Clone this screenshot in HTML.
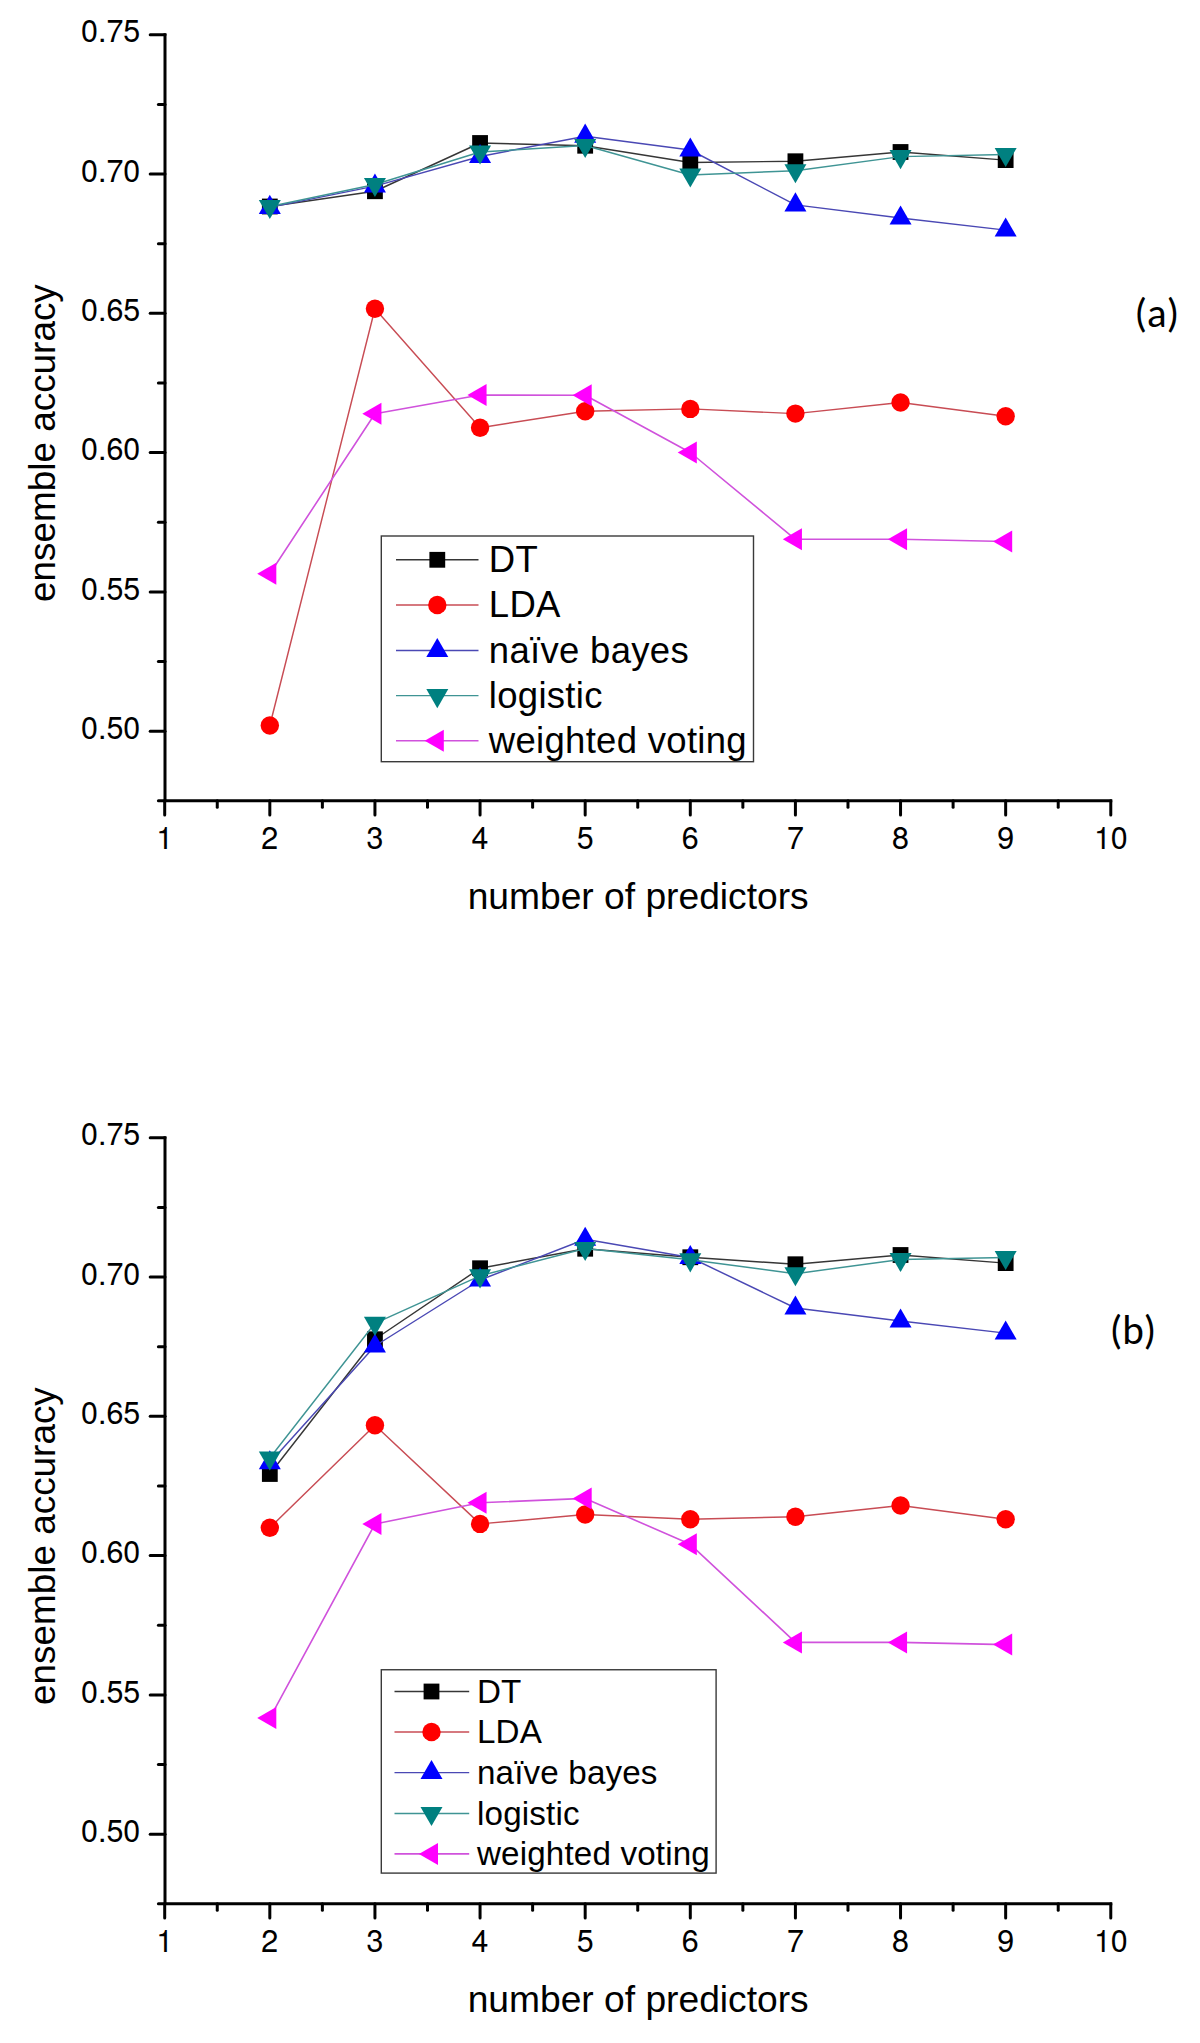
<!DOCTYPE html>
<html><head><meta charset="utf-8"><title>ensemble accuracy vs number of predictors</title>
<style>html,body{margin:0;padding:0;background:#fff;}body{width:1200px;height:2043px;overflow:hidden;}svg{display:block;}</style>
</head><body>
<svg width="1200" height="2043" viewBox="0 0 1200 2043">
<rect width="1200" height="2043" fill="#fff"/>
<g stroke="#000" stroke-width="3" fill="none" stroke-linecap="square">
<path d="M165 34.75V800.8H1110.8"/>
</g><g stroke="#000" stroke-width="3" fill="none" stroke-linecap="round">
<path d="M150.2 34.75H165"/>
<path d="M158.4 104.4H165"/>
<path d="M150.2 174.04H165"/>
<path d="M158.4 243.68H165"/>
<path d="M150.2 313.33H165"/>
<path d="M158.4 382.98H165"/>
<path d="M150.2 452.62H165"/>
<path d="M158.4 522.27H165"/>
<path d="M150.2 591.91H165"/>
<path d="M158.4 661.55H165"/>
<path d="M150.2 731.2H165"/>
<path d="M158.4 800.85H165"/>
<path d="M164.7 800.8V815"/>
<path d="M217.26 800.8V807.2"/>
<path d="M269.82 800.8V815"/>
<path d="M322.38 800.8V807.2"/>
<path d="M374.94 800.8V815"/>
<path d="M427.5 800.8V807.2"/>
<path d="M480.06 800.8V815"/>
<path d="M532.62 800.8V807.2"/>
<path d="M585.18 800.8V815"/>
<path d="M637.74 800.8V807.2"/>
<path d="M690.3 800.8V815"/>
<path d="M742.86 800.8V807.2"/>
<path d="M795.42 800.8V815"/>
<path d="M847.98 800.8V807.2"/>
<path d="M900.54 800.8V815"/>
<path d="M953.1 800.8V807.2"/>
<path d="M1005.66 800.8V815"/>
<path d="M1058.22 800.8V807.2"/>
<path d="M1110.78 800.8V815"/>
</g>
<g font-family="'TeX Gyre Heros', 'Liberation Sans', Arial, sans-serif" font-size="30.4" fill="#000">
<text transform="translate(140.2 42.35) scale(1 1.04)" text-anchor="end">0.75</text>
<text transform="translate(140.2 181.64) scale(1 1.04)" text-anchor="end">0.70</text>
<text transform="translate(140.2 320.93) scale(1 1.04)" text-anchor="end">0.65</text>
<text transform="translate(140.2 460.22) scale(1 1.04)" text-anchor="end">0.60</text>
<text transform="translate(140.2 599.51) scale(1 1.04)" text-anchor="end">0.55</text>
<text transform="translate(140.2 738.8) scale(1 1.04)" text-anchor="end">0.50</text>
<text transform="translate(164.7 849) scale(1 1.04)" text-anchor="middle">1</text>
<text transform="translate(269.82 849) scale(1 1.04)" text-anchor="middle">2</text>
<text transform="translate(374.94 849) scale(1 1.04)" text-anchor="middle">3</text>
<text transform="translate(480.06 849) scale(1 1.04)" text-anchor="middle">4</text>
<text transform="translate(585.18 849) scale(1 1.04)" text-anchor="middle">5</text>
<text transform="translate(690.3 849) scale(1 1.04)" text-anchor="middle">6</text>
<text transform="translate(795.42 849) scale(1 1.04)" text-anchor="middle">7</text>
<text transform="translate(900.54 849) scale(1 1.04)" text-anchor="middle">8</text>
<text transform="translate(1005.66 849) scale(1 1.04)" text-anchor="middle">9</text>
<text transform="translate(1110.78 849) scale(1 1.04)" text-anchor="middle">10</text>
</g>
<text transform="translate(54.5 443.1) rotate(-90)" text-anchor="middle" font-family="'Liberation Sans', Arial, sans-serif" font-size="36.9" fill="#000">ensemble accuracy</text>
<text x="638.15" y="908.7" text-anchor="middle" font-family="'Liberation Sans', Arial, sans-serif" font-size="37.2" fill="#000">number of predictors</text>
<polyline points="269.82,206.5 374.94,191.25 480.06,143 585.18,145.75 690.3,162.5 795.42,161.25 900.54,152 1005.66,160.1" fill="none" stroke="#363636" stroke-width="1.45" stroke-linejoin="round"/>
<rect x="261.92" y="198.6" width="15.8" height="15.8" fill="#000"/>
<rect x="367.04" y="183.35" width="15.8" height="15.8" fill="#000"/>
<rect x="472.16" y="135.1" width="15.8" height="15.8" fill="#000"/>
<rect x="577.28" y="137.85" width="15.8" height="15.8" fill="#000"/>
<rect x="682.4" y="154.6" width="15.8" height="15.8" fill="#000"/>
<rect x="787.52" y="153.35" width="15.8" height="15.8" fill="#000"/>
<rect x="892.64" y="144.1" width="15.8" height="15.8" fill="#000"/>
<rect x="997.76" y="152.2" width="15.8" height="15.8" fill="#000"/>
<polyline points="269.82,725.5 374.94,308.7 480.06,427.7 585.18,411.3 690.3,408.9 795.42,413.6 900.54,402.5 1005.66,416.2" fill="none" stroke="#c84c54" stroke-width="1.45" stroke-linejoin="round"/>
<circle cx="269.82" cy="725.5" r="9.2" fill="#f00"/>
<circle cx="374.94" cy="308.7" r="9.2" fill="#f00"/>
<circle cx="480.06" cy="427.7" r="9.2" fill="#f00"/>
<circle cx="585.18" cy="411.3" r="9.2" fill="#f00"/>
<circle cx="690.3" cy="408.9" r="9.2" fill="#f00"/>
<circle cx="795.42" cy="413.6" r="9.2" fill="#f00"/>
<circle cx="900.54" cy="402.5" r="9.2" fill="#f00"/>
<circle cx="1005.66" cy="416.2" r="9.2" fill="#f00"/>
<polyline points="269.82,207.4 374.94,186.1 480.06,156.5 585.18,136.2 690.3,150 795.42,204.9 900.54,218 1005.66,230.1" fill="none" stroke="#4a48b4" stroke-width="1.45" stroke-linejoin="round"/>
<polygon points="269.82,194.8 280.82,213.9 258.82,213.9" fill="#00f"/>
<polygon points="374.94,173.5 385.94,192.6 363.94,192.6" fill="#00f"/>
<polygon points="480.06,143.9 491.06,163 469.06,163" fill="#00f"/>
<polygon points="585.18,123.6 596.18,142.7 574.18,142.7" fill="#00f"/>
<polygon points="690.3,137.4 701.3,156.5 679.3,156.5" fill="#00f"/>
<polygon points="795.42,192.3 806.42,211.4 784.42,211.4" fill="#00f"/>
<polygon points="900.54,205.4 911.54,224.5 889.54,224.5" fill="#00f"/>
<polygon points="1005.66,217.5 1016.66,236.6 994.66,236.6" fill="#00f"/>
<polyline points="269.82,206.5 374.94,184.5 480.06,152 585.18,145.5 690.3,175 795.42,170.7 900.54,156.6 1005.66,154.5" fill="none" stroke="#3f9494" stroke-width="1.45" stroke-linejoin="round"/>
<polygon points="269.82,219.1 280.82,200 258.82,200" fill="#008080"/>
<polygon points="374.94,197.1 385.94,178 363.94,178" fill="#008080"/>
<polygon points="480.06,164.6 491.06,145.5 469.06,145.5" fill="#008080"/>
<polygon points="585.18,158.1 596.18,139 574.18,139" fill="#008080"/>
<polygon points="690.3,187.6 701.3,168.5 679.3,168.5" fill="#008080"/>
<polygon points="795.42,183.3 806.42,164.2 784.42,164.2" fill="#008080"/>
<polygon points="900.54,169.2 911.54,150.1 889.54,150.1" fill="#008080"/>
<polygon points="1005.66,167.1 1016.66,148 994.66,148" fill="#008080"/>
<polyline points="269.82,573.75 374.94,413.7 480.06,395 585.18,395.3 690.3,452.5 795.42,539.3 900.54,539.3 1005.66,541.5" fill="none" stroke="#d052dc" stroke-width="1.6" stroke-linejoin="round"/>
<polygon points="257.22,573.75 276.32,562.75 276.32,584.75" fill="#f0f"/>
<polygon points="362.34,413.7 381.44,402.7 381.44,424.7" fill="#f0f"/>
<polygon points="467.46,395 486.56,384 486.56,406" fill="#f0f"/>
<polygon points="572.58,395.3 591.68,384.3 591.68,406.3" fill="#f0f"/>
<polygon points="677.7,452.5 696.8,441.5 696.8,463.5" fill="#f0f"/>
<polygon points="782.82,539.3 801.92,528.3 801.92,550.3" fill="#f0f"/>
<polygon points="887.94,539.3 907.04,528.3 907.04,550.3" fill="#f0f"/>
<polygon points="993.06,541.5 1012.16,530.5 1012.16,552.5" fill="#f0f"/>
<rect x="381.3" y="536" width="372.2" height="225.7" fill="#fff" stroke="#3a3a3a" stroke-width="1.4"/>
<path d="M396 559.8H478.5" stroke="#363636" stroke-width="1.45"/>
<rect x="429.4" y="551.9" width="15.8" height="15.8" fill="#000"/>
<text x="488.8" y="572.1" font-family="'Liberation Sans', Arial, sans-serif" font-size="36.5" letter-spacing="0.3" fill="#000">DT</text>
<path d="M396 605H478.5" stroke="#c84c54" stroke-width="1.45"/>
<circle cx="437.3" cy="605" r="9.2" fill="#f00"/>
<text x="488.8" y="617.3" font-family="'Liberation Sans', Arial, sans-serif" font-size="36.5" letter-spacing="0.3" fill="#000">LDA</text>
<path d="M396 650.5H478.5" stroke="#4a48b4" stroke-width="1.45"/>
<polygon points="437.3,637.9 448.3,657 426.3,657" fill="#00f"/>
<text x="488.8" y="662.8" font-family="'Liberation Sans', Arial, sans-serif" font-size="36.5" letter-spacing="0.3" fill="#000">naïve bayes</text>
<path d="M396 695.6H478.5" stroke="#3f9494" stroke-width="1.45"/>
<polygon points="437.3,708.2 448.3,689.1 426.3,689.1" fill="#008080"/>
<text x="488.8" y="707.9" font-family="'Liberation Sans', Arial, sans-serif" font-size="36.5" letter-spacing="0.3" fill="#000">logistic</text>
<path d="M396 740.8H478.5" stroke="#d052dc" stroke-width="1.6"/>
<polygon points="424.7,740.8 443.8,729.8 443.8,751.8" fill="#f0f"/>
<text x="488.8" y="753.1" font-family="'Liberation Sans', Arial, sans-serif" font-size="36.5" letter-spacing="0.3" fill="#000">weighted voting</text>
<text x="1134.6" y="326.6" font-family="Carlito, Calibri, 'Liberation Sans', sans-serif" font-size="41" fill="#000">(a)</text>
<g stroke="#000" stroke-width="3" fill="none" stroke-linecap="square">
<path d="M165 1137.75V1903.8H1110.8"/>
</g><g stroke="#000" stroke-width="3" fill="none" stroke-linecap="round">
<path d="M150.2 1137.75H165"/>
<path d="M158.4 1207.39H165"/>
<path d="M150.2 1277.04H165"/>
<path d="M158.4 1346.68H165"/>
<path d="M150.2 1416.33H165"/>
<path d="M158.4 1485.97H165"/>
<path d="M150.2 1555.62H165"/>
<path d="M158.4 1625.27H165"/>
<path d="M150.2 1694.91H165"/>
<path d="M158.4 1764.55H165"/>
<path d="M150.2 1834.2H165"/>
<path d="M158.4 1903.85H165"/>
<path d="M164.7 1903.8V1918"/>
<path d="M217.26 1903.8V1910.2"/>
<path d="M269.82 1903.8V1918"/>
<path d="M322.38 1903.8V1910.2"/>
<path d="M374.94 1903.8V1918"/>
<path d="M427.5 1903.8V1910.2"/>
<path d="M480.06 1903.8V1918"/>
<path d="M532.62 1903.8V1910.2"/>
<path d="M585.18 1903.8V1918"/>
<path d="M637.74 1903.8V1910.2"/>
<path d="M690.3 1903.8V1918"/>
<path d="M742.86 1903.8V1910.2"/>
<path d="M795.42 1903.8V1918"/>
<path d="M847.98 1903.8V1910.2"/>
<path d="M900.54 1903.8V1918"/>
<path d="M953.1 1903.8V1910.2"/>
<path d="M1005.66 1903.8V1918"/>
<path d="M1058.22 1903.8V1910.2"/>
<path d="M1110.78 1903.8V1918"/>
</g>
<g font-family="'TeX Gyre Heros', 'Liberation Sans', Arial, sans-serif" font-size="30.4" fill="#000">
<text transform="translate(140.2 1145.35) scale(1 1.04)" text-anchor="end">0.75</text>
<text transform="translate(140.2 1284.64) scale(1 1.04)" text-anchor="end">0.70</text>
<text transform="translate(140.2 1423.93) scale(1 1.04)" text-anchor="end">0.65</text>
<text transform="translate(140.2 1563.22) scale(1 1.04)" text-anchor="end">0.60</text>
<text transform="translate(140.2 1702.51) scale(1 1.04)" text-anchor="end">0.55</text>
<text transform="translate(140.2 1841.8) scale(1 1.04)" text-anchor="end">0.50</text>
<text transform="translate(164.7 1952) scale(1 1.04)" text-anchor="middle">1</text>
<text transform="translate(269.82 1952) scale(1 1.04)" text-anchor="middle">2</text>
<text transform="translate(374.94 1952) scale(1 1.04)" text-anchor="middle">3</text>
<text transform="translate(480.06 1952) scale(1 1.04)" text-anchor="middle">4</text>
<text transform="translate(585.18 1952) scale(1 1.04)" text-anchor="middle">5</text>
<text transform="translate(690.3 1952) scale(1 1.04)" text-anchor="middle">6</text>
<text transform="translate(795.42 1952) scale(1 1.04)" text-anchor="middle">7</text>
<text transform="translate(900.54 1952) scale(1 1.04)" text-anchor="middle">8</text>
<text transform="translate(1005.66 1952) scale(1 1.04)" text-anchor="middle">9</text>
<text transform="translate(1110.78 1952) scale(1 1.04)" text-anchor="middle">10</text>
</g>
<text transform="translate(54.5 1546.1) rotate(-90)" text-anchor="middle" font-family="'Liberation Sans', Arial, sans-serif" font-size="36.9" fill="#000">ensemble accuracy</text>
<text x="638.15" y="2011.7" text-anchor="middle" font-family="'Liberation Sans', Arial, sans-serif" font-size="37.2" fill="#000">number of predictors</text>
<polyline points="269.82,1474 374.94,1339.25 480.06,1268.25 585.18,1248.75 690.3,1257.25 795.42,1264.25 900.54,1255 1005.66,1263.1" fill="none" stroke="#363636" stroke-width="1.45" stroke-linejoin="round"/>
<rect x="261.92" y="1466.1" width="15.8" height="15.8" fill="#000"/>
<rect x="367.04" y="1331.35" width="15.8" height="15.8" fill="#000"/>
<rect x="472.16" y="1260.35" width="15.8" height="15.8" fill="#000"/>
<rect x="577.28" y="1240.85" width="15.8" height="15.8" fill="#000"/>
<rect x="682.4" y="1249.35" width="15.8" height="15.8" fill="#000"/>
<rect x="787.52" y="1256.35" width="15.8" height="15.8" fill="#000"/>
<rect x="892.64" y="1247.1" width="15.8" height="15.8" fill="#000"/>
<rect x="997.76" y="1255.2" width="15.8" height="15.8" fill="#000"/>
<polyline points="269.82,1527.75 374.94,1425.3 480.06,1523.9 585.18,1514.5 690.3,1519.2 795.42,1516.7 900.54,1505.5 1005.66,1519.2" fill="none" stroke="#c84c54" stroke-width="1.45" stroke-linejoin="round"/>
<circle cx="269.82" cy="1527.75" r="9.2" fill="#f00"/>
<circle cx="374.94" cy="1425.3" r="9.2" fill="#f00"/>
<circle cx="480.06" cy="1523.9" r="9.2" fill="#f00"/>
<circle cx="585.18" cy="1514.5" r="9.2" fill="#f00"/>
<circle cx="690.3" cy="1519.2" r="9.2" fill="#f00"/>
<circle cx="795.42" cy="1516.7" r="9.2" fill="#f00"/>
<circle cx="900.54" cy="1505.5" r="9.2" fill="#f00"/>
<circle cx="1005.66" cy="1519.2" r="9.2" fill="#f00"/>
<polyline points="269.82,1462.75 374.94,1346 480.06,1280 585.18,1239.3 690.3,1257.5 795.42,1308 900.54,1321 1005.66,1333.1" fill="none" stroke="#4a48b4" stroke-width="1.45" stroke-linejoin="round"/>
<polygon points="269.82,1450.15 280.82,1469.25 258.82,1469.25" fill="#00f"/>
<polygon points="374.94,1333.4 385.94,1352.5 363.94,1352.5" fill="#00f"/>
<polygon points="480.06,1267.4 491.06,1286.5 469.06,1286.5" fill="#00f"/>
<polygon points="585.18,1226.7 596.18,1245.8 574.18,1245.8" fill="#00f"/>
<polygon points="690.3,1244.9 701.3,1264 679.3,1264" fill="#00f"/>
<polygon points="795.42,1295.4 806.42,1314.5 784.42,1314.5" fill="#00f"/>
<polygon points="900.54,1308.4 911.54,1327.5 889.54,1327.5" fill="#00f"/>
<polygon points="1005.66,1320.5 1016.66,1339.6 994.66,1339.6" fill="#00f"/>
<polyline points="269.82,1458 374.94,1323.3 480.06,1275.8 585.18,1248.5 690.3,1259.8 795.42,1273.7 900.54,1259.5 1005.66,1257.5" fill="none" stroke="#3f9494" stroke-width="1.45" stroke-linejoin="round"/>
<polygon points="269.82,1470.6 280.82,1451.5 258.82,1451.5" fill="#008080"/>
<polygon points="374.94,1335.9 385.94,1316.8 363.94,1316.8" fill="#008080"/>
<polygon points="480.06,1288.4 491.06,1269.3 469.06,1269.3" fill="#008080"/>
<polygon points="585.18,1261.1 596.18,1242 574.18,1242" fill="#008080"/>
<polygon points="690.3,1272.4 701.3,1253.3 679.3,1253.3" fill="#008080"/>
<polygon points="795.42,1286.3 806.42,1267.2 784.42,1267.2" fill="#008080"/>
<polygon points="900.54,1272.1 911.54,1253 889.54,1253" fill="#008080"/>
<polygon points="1005.66,1270.1 1016.66,1251 994.66,1251" fill="#008080"/>
<polyline points="269.82,1718.1 374.94,1524 480.06,1502.8 585.18,1498.4 690.3,1544.3 795.42,1642.4 900.54,1642.4 1005.66,1644.6" fill="none" stroke="#d052dc" stroke-width="1.6" stroke-linejoin="round"/>
<polygon points="257.22,1718.1 276.32,1707.1 276.32,1729.1" fill="#f0f"/>
<polygon points="362.34,1524 381.44,1513 381.44,1535" fill="#f0f"/>
<polygon points="467.46,1502.8 486.56,1491.8 486.56,1513.8" fill="#f0f"/>
<polygon points="572.58,1498.4 591.68,1487.4 591.68,1509.4" fill="#f0f"/>
<polygon points="677.7,1544.3 696.8,1533.3 696.8,1555.3" fill="#f0f"/>
<polygon points="782.82,1642.4 801.92,1631.4 801.92,1653.4" fill="#f0f"/>
<polygon points="887.94,1642.4 907.04,1631.4 907.04,1653.4" fill="#f0f"/>
<polygon points="993.06,1644.6 1012.16,1633.6 1012.16,1655.6" fill="#f0f"/>
<rect x="381.3" y="1669.75" width="334.8" height="203.35" fill="#fff" stroke="#3a3a3a" stroke-width="1.4"/>
<path d="M394.5 1691.5H469.2" stroke="#363636" stroke-width="1.45"/>
<rect x="423.6" y="1683.6" width="15.8" height="15.8" fill="#000"/>
<text x="477" y="1702.8" font-family="'Liberation Sans', Arial, sans-serif" font-size="33.2" letter-spacing="0.15" fill="#000">DT</text>
<path d="M394.5 1732H469.2" stroke="#c84c54" stroke-width="1.45"/>
<circle cx="431.5" cy="1732" r="9.2" fill="#f00"/>
<text x="477" y="1743.3" font-family="'Liberation Sans', Arial, sans-serif" font-size="33.2" letter-spacing="0.15" fill="#000">LDA</text>
<path d="M394.5 1772.6H469.2" stroke="#4a48b4" stroke-width="1.45"/>
<polygon points="431.5,1760 442.5,1779.1 420.5,1779.1" fill="#00f"/>
<text x="477" y="1783.9" font-family="'Liberation Sans', Arial, sans-serif" font-size="33.2" letter-spacing="0.15" fill="#000">naïve bayes</text>
<path d="M394.5 1813.4H469.2" stroke="#3f9494" stroke-width="1.45"/>
<polygon points="431.5,1826 442.5,1806.9 420.5,1806.9" fill="#008080"/>
<text x="477" y="1824.7" font-family="'Liberation Sans', Arial, sans-serif" font-size="33.2" letter-spacing="0.15" fill="#000">logistic</text>
<path d="M394.5 1853.9H469.2" stroke="#d052dc" stroke-width="1.6"/>
<polygon points="418.9,1853.9 438,1842.9 438,1864.9" fill="#f0f"/>
<text x="477" y="1865.2" font-family="'Liberation Sans', Arial, sans-serif" font-size="33.2" letter-spacing="0.15" fill="#000">weighted voting</text>
<text x="1109.8" y="1343.8" font-family="Carlito, Calibri, 'Liberation Sans', sans-serif" font-size="41" fill="#000">(b)</text>
</svg>
</body></html>
